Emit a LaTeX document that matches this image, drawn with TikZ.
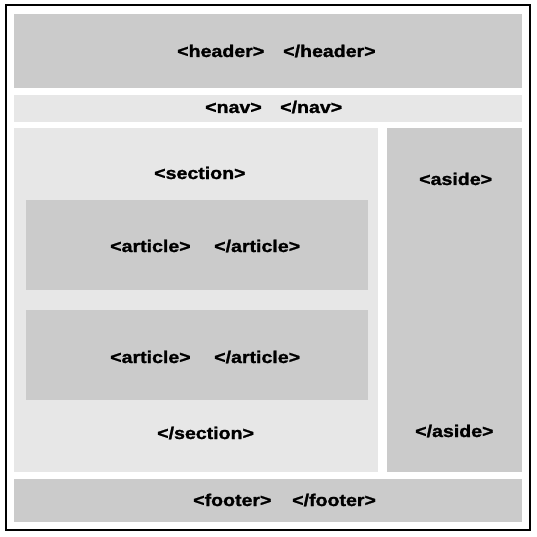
\documentclass[tikz,border=0pt]{standalone}
\usepackage{fontspec}
\setmainfont{Liberation Sans}
\newfontfamily\tagfont{Liberation Sans Bold}[FakeBold=1.3]
\begin{document}
\begin{tikzpicture}[x=1pt,y=-1pt,
  darkbox/.style={fill=boxdark,draw=none},
  lightbox/.style={fill=boxlight,draw=none},
  tag/.style={font=\tagfont\fontsize{17}{20}\selectfont,inner sep=0pt,anchor=base west,xscale=1.15,transform shape},
]
\definecolor{boxdark}{HTML}{CBCBCB}
\definecolor{boxlight}{HTML}{E7E7E7}
\useasboundingbox[fill=white] (0,0) rectangle (537,537);
\draw[line width=2pt,black] (5.5,5.5) rectangle (530,530);
% regions
\fill[darkbox]  (14,14) rectangle (522,88);
\fill[lightbox] (14,95) rectangle (522,122);
\fill[lightbox] (14,128) rectangle (378,472);
\fill[darkbox]  (387,128) rectangle (522,472);
\fill[darkbox]  (26,200) rectangle (368,290);
\fill[darkbox]  (26,310) rectangle (368,400);
\fill[darkbox]  (14,479) rectangle (522,522);
% texts
\node[tag] (ho) at (177,57) {<header>};
\node[tag] (hc) at (283,57) {</header>};
\node[tag] (no) at (205,113) {<nav>};
\node[tag] (nc) at (280,113) {</nav>};
\node[tag] (so) at (154,179) {<section>};
\node[tag] (a1o) at (110,252) {<article>};
\node[tag] (a1c) at (214,252) {</article>};
\node[tag] (a2o) at (110,363) {<article>};
\node[tag] (a2c) at (214,363) {</article>};
\node[tag] (sc) at (157,439) {</section>};
\node[tag] (ao) at (419,185) {<aside>};
\node[tag] (ac) at (415,437) {</aside>};
\node[tag] (fo) at (193,506) {<footer>};
\node[tag] (fc) at (292,506) {</footer>};
\end{tikzpicture}
\end{document}
